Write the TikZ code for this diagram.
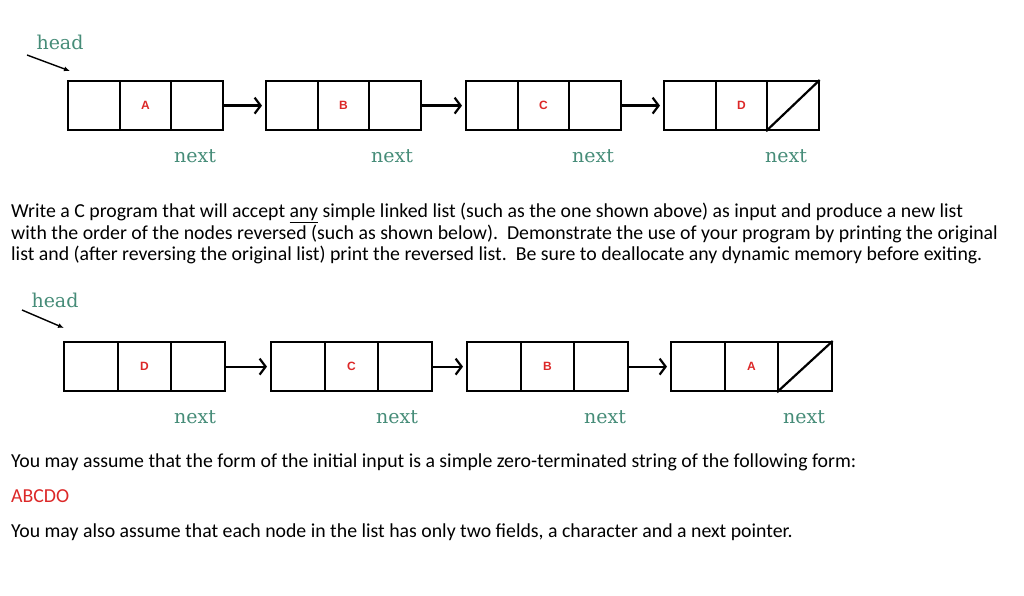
\documentclass[tikz,border=0pt]{standalone}
\usepackage{fontspec}
\setmainfont{Carlito}
\newfontfamily\serifb{DejaVu Serif}
\newfontfamily\sansb{Liberation Sans}
\usetikzlibrary{arrows.meta}
\definecolor{lbl}{RGB}{70,140,120}
\definecolor{redA}{RGB}{220,40,40}
\begin{document}
\begin{tikzpicture}[x=1pt,y=-1pt,
  cell/.style={draw,line width=2.2pt,minimum width=#1pt,minimum height=49pt,inner sep=0pt,anchor=north west},
  lett/.style={text=redA,font=\sansb\bfseries\fontsize{12}{12}\selectfont},
  lab/.style={text=lbl,font=\serifb\fontsize{19}{19}\selectfont},
  conn/.style={line width=2.2pt,-{Straight Barb[length=6pt,width=16pt,line width=2.2pt]}},
  hd/.style={line width=1.4pt,-{Latex[length=6pt,width=5pt]}},
  txt/.style={anchor=west,inner sep=0pt,font=\fontsize{19.8}{22}\selectfont}]
\useasboundingbox (0,0) rectangle (1024,596);
% top list
\foreach \i/\x/\L in {1/67/A,2/265/B,3/465/C,4/663/D}{
  \node[cell=51.5] (ta\i) at (\x,80) {};
  \node[cell=51.5] (tb\i) at (\x+51.5,80) {};
  \node[cell=51.5] (tc\i) at (\x+103,80) {};
  \node[lett] (tl\i) at (tb\i.center) {\L};
}
\foreach \i/\j in {1/2,2/3,3/4}{\draw[conn] (tc\i.east) -- ([xshift=-3pt]ta\j.west);}
\draw[line width=2.2pt] (tc4.south west) -- (tc4.north east);
\node[lab] (th) at (60,42) {head};
\coordinate (ths) at (27,55);
\draw[hd] (ths) -- (70,71);
\foreach \x [count=\k] in {195,392,593,786}{\node[lab] (tn\k) at (\x,156) {next};}
% text
\node[txt] (p1) at (11,213) {Write a C program that will accept \underline{any} simple linked list (such as the one shown above) as input and produce a new list};
\node[txt] (p2) at (11,234) {with the order of the nodes reversed (such as shown below).\ \ Demonstrate the use of your program by printing the original};
\node[txt] (p3) at (11,255) {list and (after reversing the original list) print the reversed list.\ \ Be sure to deallocate any dynamic memory before exiting.};
% bottom list
\foreach \i/\x/\L in {1/63/D,2/270/C,3/466/B,4/670/A}{
  \node[cell=53.5] (ba\i) at (\x,341) {};
  \node[cell=53.5] (bb\i) at (\x+53.5,341) {};
  \node[cell=53.5] (bc\i) at (\x+107,341) {};
  \node[lett] (bl\i) at (bb\i.center) {\L};
}
\foreach \i/\j in {1/2,2/3,3/4}{\draw[conn] (bc\i.east) -- ([xshift=-3pt]ba\j.west);}
\draw[line width=2.2pt] (bc4.south west) -- (bc4.north east);
\node[lab] (bh) at (55,300) {head};
\coordinate (bhs) at (22,310);
\draw[hd] (bhs) -- (64,328);
\foreach \x [count=\k] in {195,397,605,804}{\node[lab] (bn\k) at (\x,417) {next};}
\node[txt] (q1) at (11,462) {You may assume that the form of the initial input is a simple zero-terminated string of the following form:};
\node[txt,text=redA] (q2) at (11,496) {ABCDO};
\node[txt] (q3) at (11,532) {You may also assume that each node in the list has only two fields, a character and a next pointer.};
\end{tikzpicture}
\end{document}
